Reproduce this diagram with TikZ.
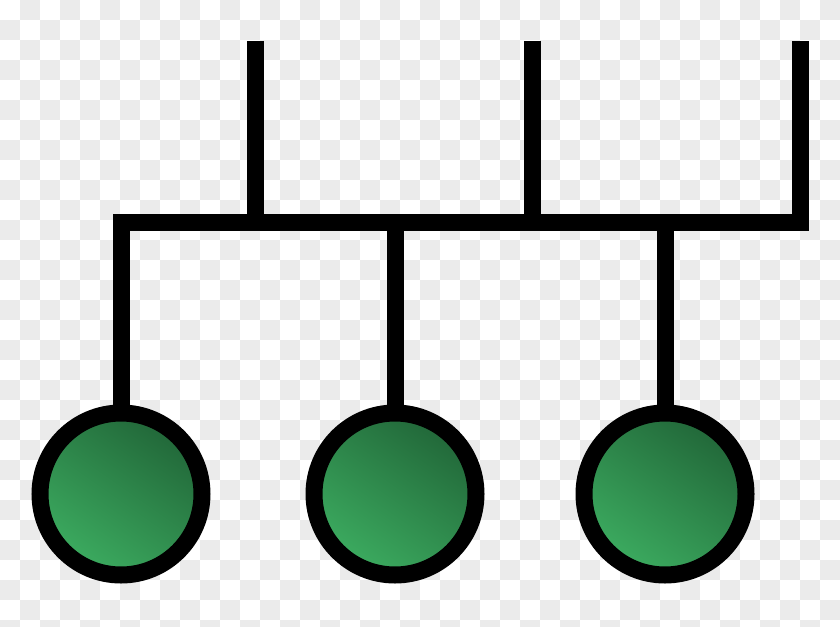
\documentclass[tikz,border=0pt]{standalone}
\usetikzlibrary{positioning}
\definecolor{nodedark}{RGB}{33,102,56}
\definecolor{nodelight}{RGB}{60,172,96}
\definecolor{checker}{RGB}{235,235,235}
\begin{document}
\begin{tikzpicture}[x=0.5pt,y=-0.5pt]

    \tikzstyle{station}=[circle,draw=black,line width=8.5pt,inner sep=0pt,minimum size=81pt,top color=nodedark,bottom color=nodelight,shading angle=-35]
    \tikzstyle{wire}=[draw=black,line width=8.5pt,line join=miter]

    \useasboundingbox (0,0) rectangle (840,626);
    % checkered background
    \fill[white] (0,0) rectangle (840,626);
    \begin{scope}
        \clip (0,0) rectangle (840,626);
        \foreach \i in {0,...,41}
            \foreach \j in {0,...,31}{
                \pgfmathtruncatemacro{\odd}{mod(\i+\j,2)}
                \ifnum\odd=1 \fill[checker] (20*\i,20*\j) rectangle ++(20,20); \fi
            }
    \end{scope}

    \begin{scope}
        \node [station] (s1) at (121,494) {};
        \node [station] (s2) at (395,494) {};
        \node [station] (s3) at (665,494) {};
        \coordinate (t1) at (255,41);
        \coordinate (t2) at (532,41);
        \coordinate (t3) at (800,41);
        \coordinate (bl) at (121,222);
        \coordinate (br) at (800,222);

        \draw [wire] (s1.north) -- (bl) -- (br) -- (t3);
        \draw [wire] (t1) -- (t1 |- bl);
        \draw [wire] (t2) -- (t2 |- bl);
        \draw [wire] (s2.north) -- (s2.north |- bl);
        \draw [wire] (s3.north) -- (s3.north |- bl);
    \end{scope}
\end{tikzpicture}
\end{document}
